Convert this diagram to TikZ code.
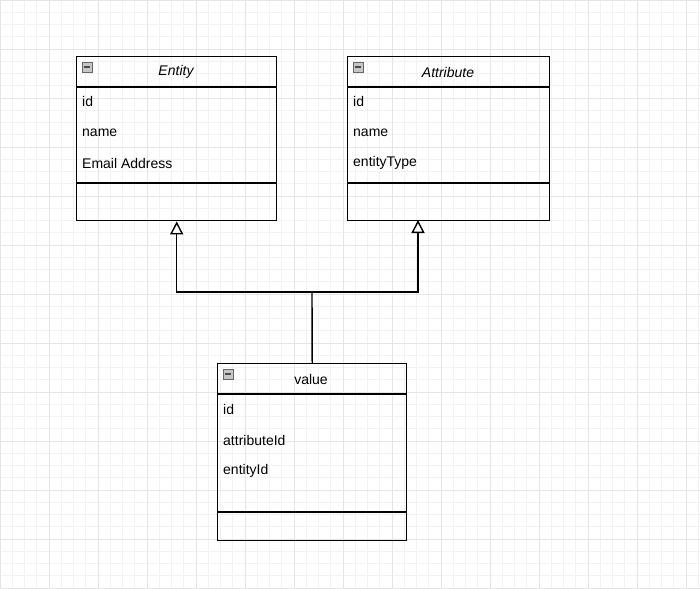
\documentclass[tikz,border=0pt]{standalone}
\usepackage{fontspec}
\setmainfont{Liberation Sans}
\usetikzlibrary{arrows.meta}
\tikzset{
  box/.style={draw,line width=1.4pt,anchor=north west,inner sep=0pt,minimum width=#1},
  sep/.style={line width=1.4pt},
  field/.style={anchor=west,inner sep=0pt,font=\fontsize{14}{16}\selectfont},
  title/.style={inner sep=0pt,font=\fontsize{14}{16}\selectfont},
  fold/.style={draw=gray!80!black,fill=gray!45,line width=0.6pt},
  inherit/.style={line width=1.4pt,-{Triangle[open,length=13pt,width=13pt]}}
}
\newcommand{\foldicon}[2]{%
  \draw[fold] (#1,#2) rectangle ++(10,10);
  \draw[line width=1.2pt,black!70] (#1+2,#2+5) -- ++(6,0);}
\begin{document}
\begin{tikzpicture}[x=1pt,y=-1pt]
    \useasboundingbox (0,0) rectangle (700,588);
    % grid
    \draw[gray!10,line width=0.6pt] (0,0) grid[step=12.25pt] (700,588);
    \draw[gray!20,line width=0.6pt] (0,0) grid[step=49pt] (700,588);

    % Entity
    \node[box=200pt,minimum height=164pt] (ent) at (76,56) {};
    \draw[sep] (76,87) -- (276,87);
    \draw[sep] (76,183) -- (276,183);
    \foldicon{82}{62}
    \node[title] (entT) at (176,72) {\itshape Entity};
    \node[field] (ent1) at (82,101) {id};
    \node[field] (ent2) at (82,133) {name};
    \node[field] (ent3) at (82,163) {Email Address};

    % Attribute
    \node[box=202pt,minimum height=164pt] (att) at (347,56) {};
    \draw[sep] (347,87) -- (549,87);
    \draw[sep] (347,183) -- (549,183);
    \foldicon{353}{62}
    \node[title] (attT) at (448,72) {\itshape Attribute};
    \node[field] (att1) at (353,101) {id};
    \node[field] (att2) at (353,133) {name};
    \node[field] (att3) at (353,163) {entityType};

    % value
    \node[box=189pt,minimum height=177pt] (val) at (217,363) {};
    \draw[sep] (217,394) -- (406,394);
    \draw[sep] (217,512) -- (406,512);
    \foldicon{223}{369}
    \node[title] (valT) at (311,379) {value};
    \node[field] (val1) at (223,409) {id};
    \node[field] (val2) at (223,440) {attributeId};
    \node[field] (val3) at (223,471) {entityId};

    % generalisation
    \coordinate (j) at (312,292);
    \coordinate (attIn) at (418,220);
    \draw[sep] (val.north) -- (j);
    \draw[inherit] (j) -| (ent.south);
    \draw[inherit] (j) -| (attIn);
\end{tikzpicture}
\end{document}
